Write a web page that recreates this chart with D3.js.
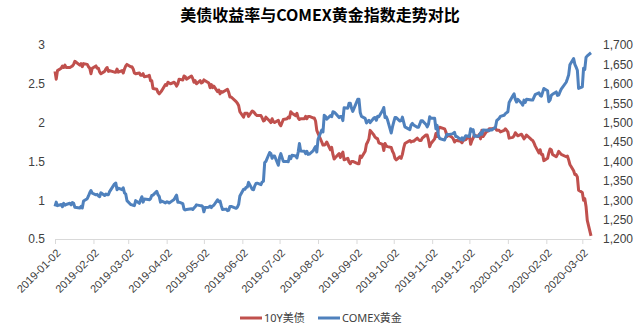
<!DOCTYPE html>
<html>
<head>
<meta charset="utf-8">
<script src="https://cdn.jsdelivr.net/npm/d3@7"></script>
<style>
  body { margin: 0; background: #fff; }
  svg { display: block; font-family: "Noto Sans", "Noto Sans CJK SC", sans-serif; }
</style>
</head>
<body>
<svg id="chart"></svg>
<script>
// 交易日
const dates = [
  "2019-01-02","2019-01-03","2019-01-04","2019-01-07","2019-01-08","2019-01-09","2019-01-10","2019-01-11","2019-01-14","2019-01-15","2019-01-16","2019-01-17","2019-01-18","2019-01-22","2019-01-23","2019-01-24","2019-01-25","2019-01-28","2019-01-29","2019-01-30","2019-01-31",
  "2019-02-01","2019-02-04","2019-02-05","2019-02-06","2019-02-07","2019-02-08","2019-02-11","2019-02-12","2019-02-13","2019-02-14","2019-02-15","2019-02-19","2019-02-20","2019-02-21","2019-02-22","2019-02-25","2019-02-26","2019-02-27","2019-02-28",
  "2019-03-01","2019-03-04","2019-03-05","2019-03-06","2019-03-07","2019-03-08","2019-03-11","2019-03-12","2019-03-13","2019-03-14","2019-03-15","2019-03-18","2019-03-19","2019-03-20","2019-03-21","2019-03-22","2019-03-25","2019-03-26","2019-03-27","2019-03-28","2019-03-29",
  "2019-04-01","2019-04-02","2019-04-03","2019-04-04","2019-04-05","2019-04-08","2019-04-09","2019-04-10","2019-04-11","2019-04-12","2019-04-15","2019-04-16","2019-04-17","2019-04-18","2019-04-22","2019-04-23","2019-04-24","2019-04-25","2019-04-26","2019-04-29","2019-04-30",
  "2019-05-01","2019-05-02","2019-05-03","2019-05-06","2019-05-07","2019-05-08","2019-05-09","2019-05-10","2019-05-13","2019-05-14","2019-05-15","2019-05-16","2019-05-17","2019-05-20","2019-05-21","2019-05-22","2019-05-23","2019-05-24","2019-05-28","2019-05-29","2019-05-30","2019-05-31",
  "2019-06-03","2019-06-04","2019-06-05","2019-06-06","2019-06-07","2019-06-10","2019-06-11","2019-06-12","2019-06-13","2019-06-14","2019-06-17","2019-06-18","2019-06-19","2019-06-20","2019-06-21","2019-06-24","2019-06-25","2019-06-26","2019-06-27","2019-06-28",
  "2019-07-01","2019-07-02","2019-07-03","2019-07-05","2019-07-08","2019-07-09","2019-07-10","2019-07-11","2019-07-12","2019-07-15","2019-07-16","2019-07-17","2019-07-18","2019-07-19","2019-07-22","2019-07-23","2019-07-24","2019-07-25","2019-07-26","2019-07-29","2019-07-30","2019-07-31",
  "2019-08-01","2019-08-02","2019-08-05","2019-08-06","2019-08-07","2019-08-08","2019-08-09","2019-08-12","2019-08-13","2019-08-14","2019-08-15","2019-08-16","2019-08-19","2019-08-20","2019-08-21","2019-08-22","2019-08-23","2019-08-26","2019-08-27","2019-08-28","2019-08-29","2019-08-30",
  "2019-09-03","2019-09-04","2019-09-05","2019-09-06","2019-09-09","2019-09-10","2019-09-11","2019-09-12","2019-09-13","2019-09-16","2019-09-17","2019-09-18","2019-09-19","2019-09-20","2019-09-23","2019-09-24","2019-09-25","2019-09-26","2019-09-27","2019-09-30",
  "2019-10-01","2019-10-02","2019-10-03","2019-10-04","2019-10-07","2019-10-08","2019-10-09","2019-10-10","2019-10-11","2019-10-15","2019-10-16","2019-10-17","2019-10-18","2019-10-21","2019-10-22","2019-10-23","2019-10-24","2019-10-25","2019-10-28","2019-10-29","2019-10-30","2019-10-31",
  "2019-11-01","2019-11-04","2019-11-05","2019-11-06","2019-11-07","2019-11-08","2019-11-12","2019-11-13","2019-11-14","2019-11-15","2019-11-18","2019-11-19","2019-11-20","2019-11-21","2019-11-22","2019-11-25","2019-11-26","2019-11-27","2019-11-29",
  "2019-12-02","2019-12-03","2019-12-04","2019-12-05","2019-12-06","2019-12-09","2019-12-10","2019-12-11","2019-12-12","2019-12-13","2019-12-16","2019-12-17","2019-12-18","2019-12-19","2019-12-20","2019-12-23","2019-12-24","2019-12-26","2019-12-27","2019-12-30","2019-12-31",
  "2020-01-02","2020-01-03","2020-01-06","2020-01-07","2020-01-08","2020-01-09","2020-01-10","2020-01-13","2020-01-14","2020-01-15","2020-01-16","2020-01-17","2020-01-21","2020-01-22","2020-01-23","2020-01-24","2020-01-27","2020-01-28","2020-01-29","2020-01-30","2020-01-31",
  "2020-02-03","2020-02-04","2020-02-05","2020-02-06","2020-02-07","2020-02-10","2020-02-11","2020-02-12","2020-02-13","2020-02-14","2020-02-18","2020-02-19","2020-02-20","2020-02-21","2020-02-24","2020-02-25","2020-02-26","2020-02-27","2020-02-28",
  "2020-03-02","2020-03-03","2020-03-04","2020-03-05","2020-03-06","2020-03-09"
];

// 10Y美债收益率 (左轴)
const us10y = [
  2.66,2.56,2.67,2.70,2.73,2.71,2.74,2.71,2.71,2.72,2.73,2.75,2.79,2.74,2.76,2.72,2.76,2.75,2.72,2.70,2.63,
  2.70,2.73,2.70,2.70,2.65,2.63,2.66,2.69,2.71,2.66,2.67,2.65,2.65,2.69,2.65,2.67,2.64,2.69,2.73,
  2.75,2.72,2.72,2.69,2.64,2.63,2.64,2.61,2.61,2.63,2.59,2.60,2.61,2.54,2.54,2.44,2.43,2.39,2.37,2.39,2.41,
  2.49,2.48,2.52,2.51,2.50,2.52,2.50,2.47,2.50,2.56,2.55,2.60,2.59,2.56,2.60,2.57,2.52,2.54,2.50,2.54,2.51,
  2.52,2.55,2.54,2.51,2.45,2.49,2.45,2.47,2.40,2.42,2.37,2.40,2.39,2.42,2.43,2.39,2.33,2.33,2.27,2.25,2.22,2.14,
  2.07,2.12,2.12,2.12,2.08,2.15,2.14,2.12,2.10,2.09,2.09,2.06,2.02,2.03,2.07,2.02,2.00,2.05,2.01,2.00,
  2.03,1.98,1.96,2.04,2.05,2.07,2.06,2.14,2.12,2.09,2.12,2.06,2.04,2.05,2.05,2.08,2.05,2.08,2.08,2.06,2.06,2.02,
  1.90,1.86,1.75,1.71,1.71,1.72,1.75,1.65,1.68,1.59,1.53,1.55,1.60,1.55,1.59,1.62,1.52,1.54,1.49,1.47,1.50,1.50,
  1.47,1.47,1.57,1.55,1.63,1.72,1.75,1.79,1.90,1.84,1.81,1.80,1.79,1.74,1.72,1.64,1.73,1.70,1.69,1.68,
  1.63,1.60,1.54,1.52,1.56,1.54,1.59,1.67,1.73,1.77,1.75,1.76,1.76,1.80,1.78,1.77,1.77,1.80,1.84,1.84,1.78,1.69,
  1.73,1.79,1.86,1.82,1.92,1.94,1.92,1.88,1.82,1.84,1.81,1.79,1.75,1.77,1.77,1.76,1.74,1.77,1.78,
  1.83,1.72,1.77,1.80,1.84,1.82,1.85,1.79,1.90,1.82,1.89,1.89,1.92,1.92,1.92,1.93,1.90,1.90,1.88,1.90,1.92,
  1.88,1.80,1.81,1.83,1.87,1.85,1.83,1.85,1.82,1.79,1.81,1.84,1.78,1.77,1.74,1.70,1.61,1.65,1.59,1.59,1.51,
  1.54,1.61,1.66,1.65,1.59,1.56,1.59,1.63,1.61,1.59,1.56,1.57,1.52,1.46,1.38,1.33,1.33,1.30,1.13,
  1.10,1.00,1.02,0.92,0.74,0.54
];

// COMEX黄金 (右轴)
const comexGold = [
  1284,1295,1286,1289,1283,1292,1287,1289,1292,1288,1294,1292,1282,1280,1284,1280,1298,1304,1311,1319,1325,
  1318,1314,1315,1311,1309,1319,1312,1316,1314,1314,1322,1342,1344,1327,1331,1327,1332,1319,1316,
  1299,1289,1288,1287,1286,1299,1292,1301,1309,1295,1303,1302,1301,1304,1312,1313,1323,1314,1310,1295,1298,
  1293,1296,1295,1293,1295,1302,1308,1313,1295,1295,1291,1277,1275,1276,1278,1276,1280,1283,1288,1286,1286,
  1284,1270,1281,1282,1285,1281,1285,1287,1301,1296,1298,1286,1276,1277,1273,1274,1284,1284,1279,1282,1289,1311,
  1328,1328,1333,1334,1346,1328,1327,1337,1343,1344,1340,1347,1349,1397,1400,1423,1420,1408,1414,1414,
  1390,1410,1420,1400,1400,1399,1413,1407,1416,1414,1409,1424,1446,1427,1426,1420,1426,1418,1419,1427,1433,1438,
  1424,1457,1481,1476,1519,1516,1509,1518,1515,1528,1527,1524,1513,1516,1516,1505,1538,1537,1550,1550,1537,1529,
  1560,1560,1526,1516,1511,1499,1503,1506,1500,1512,1513,1506,1516,1515,1531,1539,1513,1515,1507,1473,
  1489,1501,1513,1513,1504,1505,1514,1501,1489,1482,1494,1498,1494,1488,1488,1496,1505,1505,1495,1489,1496,1515,
  1511,1511,1484,1493,1467,1459,1455,1463,1470,1469,1471,1472,1475,1464,1464,1456,1461,1455,1466,
  1464,1484,1478,1482,1465,1465,1467,1474,1470,1481,1480,1481,1479,1482,1481,1488,1505,1511,1516,1519,1523,
  1528,1552,1569,1574,1560,1553,1560,1550,1545,1558,1552,1560,1558,1558,1565,1572,1577,1570,1568,1578,1588,
  1582,1554,1558,1570,1573,1579,1570,1571,1579,1586,1604,1613,1623,1649,1665,1650,1643,1635,1588,
  1592,1640,1637,1668,1672,1680
];

// 刻度
const xTicks = ["2019-01-02","2019-02-02","2019-03-02","2019-04-02","2019-05-02","2019-06-02","2019-07-02",
  "2019-08-02","2019-09-02","2019-10-02","2019-11-02","2019-12-02","2020-01-02","2020-02-02","2020-03-02"];
const leftTicks = [0.5, 1, 1.5, 2, 2.5, 3];
const rightTicks = [1200, 1250, 1300, 1350, 1400, 1450, 1500, 1550, 1600, 1650, 1700];
const seriesNames = ["10Y美债", "COMEX黄金"];
const colors = ["#c0504d", "#4f81bd"];

const width = 639, height = 335;
const plotLeft = 55, plotRight = 591, plotTop = 45, plotBottom = 239;
const parse = d3.timeParse("%Y-%m-%d");

const svg = d3.select("#chart").attr("width", width).attr("height", height);

const x = d3.scaleTime()
  .domain([parse("2019-01-02"), parse("2020-03-09")])
  .range([plotLeft, plotRight]);
const yL = d3.scaleLinear().domain([0.5, 3]).range([plotBottom, plotTop]);
const yR = d3.scaleLinear().domain([1200, 1700]).range([plotBottom, plotTop]);

// 标题
svg.append("text")
  .attr("x", 320).attr("y", 21)
  .attr("text-anchor", "middle")
  .style("font-family", '"Noto Sans CJK SC", sans-serif')
  .style("font-size", "16px").style("font-weight", "bold")
  .attr("fill", "#000")
  .text("美债收益率与COMEX黄金指数走势对比");

// x轴
const gx = svg.append("g")
  .attr("transform", `translate(0,${plotBottom})`)
  .call(d3.axisBottom(x)
    .tickValues(xTicks.map(parse))
    .tickFormat(d3.timeFormat("%Y-%m-%d"))
    .tickSize(5).tickSizeOuter(0));
gx.select(".domain").attr("stroke", "#d9d9d9");
gx.selectAll(".tick line").attr("stroke", "#d9d9d9");
gx.selectAll(".tick text")
  .attr("y", 0).attr("dy", "0.35em")
  .attr("text-anchor", "end")
  .attr("transform", "translate(3,12) rotate(-45)")
  .style("font-size", "11px").attr("fill", "#404040");

// 左轴
const gl = svg.append("g")
  .attr("transform", `translate(${plotLeft - 8},0)`)
  .call(d3.axisLeft(yL).tickValues(leftTicks).tickFormat(d3.format("")).tickSize(0).tickPadding(2));
gl.select(".domain").remove();
gl.selectAll("text").style("font-size", "12px").attr("fill", "#404040");

// 右轴
const gr = svg.append("g")
  .attr("transform", `translate(${plotRight + 10},0)`)
  .call(d3.axisRight(yR).tickValues(rightTicks).tickFormat(d3.format(",")).tickSize(0).tickPadding(2));
gr.select(".domain").remove();
gr.selectAll("text").style("font-size", "12px").attr("fill", "#404040");

// 折线
const lineL = d3.line().x((d, i) => x(parse(dates[i]))).y(d => yL(d));
const lineR = d3.line().x((d, i) => x(parse(dates[i]))).y(d => yR(d));

svg.append("path")
  .datum(us10y)
  .attr("fill", "none").attr("stroke", colors[0])
  .attr("stroke-width", 3).attr("stroke-linejoin", "round")
  .attr("d", lineL);

svg.append("path")
  .datum(comexGold)
  .attr("fill", "none").attr("stroke", colors[1])
  .attr("stroke-width", 3).attr("stroke-linejoin", "round")
  .attr("d", lineR);

// 图例
const legendX = [240, 318];
const legend = svg.append("g").attr("transform", "translate(0,318)");
seriesNames.forEach((name, i) => {
  legend.append("line")
    .attr("x1", legendX[i]).attr("x2", legendX[i] + 22)
    .attr("y1", 0).attr("y2", 0)
    .attr("stroke", colors[i]).attr("stroke-width", 3);
  legend.append("text")
    .attr("x", legendX[i] + 24).attr("y", 0).attr("dy", "0.35em")
    .style("font-size", "11px").attr("fill", "#404040")
    .text(name);
});
</script>
</body>
</html>
